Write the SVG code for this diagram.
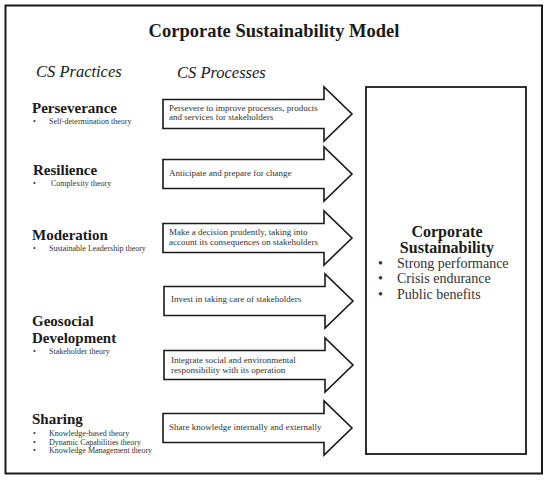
<svg xmlns="http://www.w3.org/2000/svg" width="550" height="481" viewBox="0 0 550 481">
<style>
text{font-family:"Liberation Serif","DejaVu Serif",serif;fill:#1a1a1a}
.title{font-size:18.5px;font-weight:bold}
.hdr{font-size:16.5px;font-style:italic}
.prac{font-size:15px;font-weight:bold}
.th{font-size:8px;fill:#333}
.at{font-size:9px;fill:#333}
.arrow{fill:#fff;stroke:#1a1a1a;stroke-width:1.6;stroke-linejoin:miter}
.box{fill:#fff;stroke:#1a1a1a;stroke-width:1.8}
.cs{font-size:16px;font-weight:bold}
.csb{font-size:14px;fill:#333}
</style>
<defs>
<path id="arr" d="M0,-14.5 H161 V-27 L189,0 L161,27 V14.5 H0 Z"/>
</defs>
<rect id="frame" x="5.5" y="5.5" width="536.5" height="468" fill="#fff" stroke="#1a1a1a" stroke-width="2"/>
<text class="title" x="274" y="37" text-anchor="middle">Corporate Sustainability Model</text>
<text class="hdr" x="36" y="77">CS Practices</text>
<text class="hdr" x="177" y="78">CS Processes</text>

<g id="practices">
<g id="perseverance">
<text class="prac" x="32" y="113">Perseverance</text>
<text class="th" x="33" y="124">•</text><text class="th" x="49" y="124">Self-determination theory</text>
</g>
<g id="resilience">
<text class="prac" x="33" y="175">Resilience</text>
<text class="th" x="33" y="186">•</text><text class="th" x="51" y="186">Complexity theory</text>
</g>
<g id="moderation">
<text class="prac" x="32" y="240">Moderation</text>
<text class="th" x="33" y="251">•</text><text class="th" x="49" y="251">Sustainable Leadership theory</text>
</g>
<g id="geosocial">
<text class="prac" x="32" y="326">Geosocial</text>
<text class="prac" x="32" y="343">Development</text>
<text class="th" x="33" y="354">•</text><text class="th" x="49" y="354">Stakeholder theory</text>
</g>
<g id="sharing">
<text class="prac" x="32" y="424">Sharing</text>
<text class="th" x="33" y="436">•</text><text class="th" x="49" y="436">Knowledge-based theory</text>
<text class="th" x="33" y="444.5">•</text><text class="th" x="49" y="444.5">Dynamic Capabilities theory</text>
<text class="th" x="33" y="453">•</text><text class="th" x="49" y="453">Knowledge Management theory</text>
</g>
</g>

<g id="connectors">
<g id="p1"><use href="#arr" class="arrow" transform="translate(163,114)"/>
<text class="at" x="169" y="110.5">Persevere to improve processes, products</text>
<text class="at" x="169" y="120">and services for stakeholders</text></g>
<g id="p2"><use href="#arr" class="arrow" transform="translate(163,174)"/>
<text class="at" x="169" y="176">Anticipate and prepare for change</text></g>
<g id="p3"><use href="#arr" class="arrow" transform="translate(163,238)"/>
<text class="at" x="169" y="235">Make a decision prudently, taking into</text>
<text class="at" x="169" y="244.5">account its consequences on stakeholders</text></g>
<g id="p4"><use href="#arr" class="arrow" transform="translate(164,301)"/>
<text class="at" x="171" y="302">Invest in taking care of stakeholders</text></g>
<g id="p5"><use href="#arr" class="arrow" transform="translate(164,365)"/>
<text class="at" x="171" y="362.5">Integrate social and environmental</text>
<text class="at" x="171" y="372.5">responsibility with its operation</text></g>
<g id="p6"><use href="#arr" class="arrow" transform="translate(163,428)"/>
<text class="at" x="169" y="430">Share knowledge internally and externally</text></g>
</g>

<g id="corporate-sustainability">
<rect class="box" x="366" y="87" width="160" height="367"/>
<text class="cs" x="447" y="237" text-anchor="middle">Corporate</text>
<text class="cs" x="447" y="253" text-anchor="middle">Sustainability</text>
<text class="csb" x="378" y="268">•</text><text class="csb" x="397" y="268">Strong performance</text>
<text class="csb" x="378" y="283">•</text><text class="csb" x="397" y="283">Crisis endurance</text>
<text class="csb" x="378" y="299">•</text><text class="csb" x="397" y="299">Public benefits</text>
</g>
</svg>
